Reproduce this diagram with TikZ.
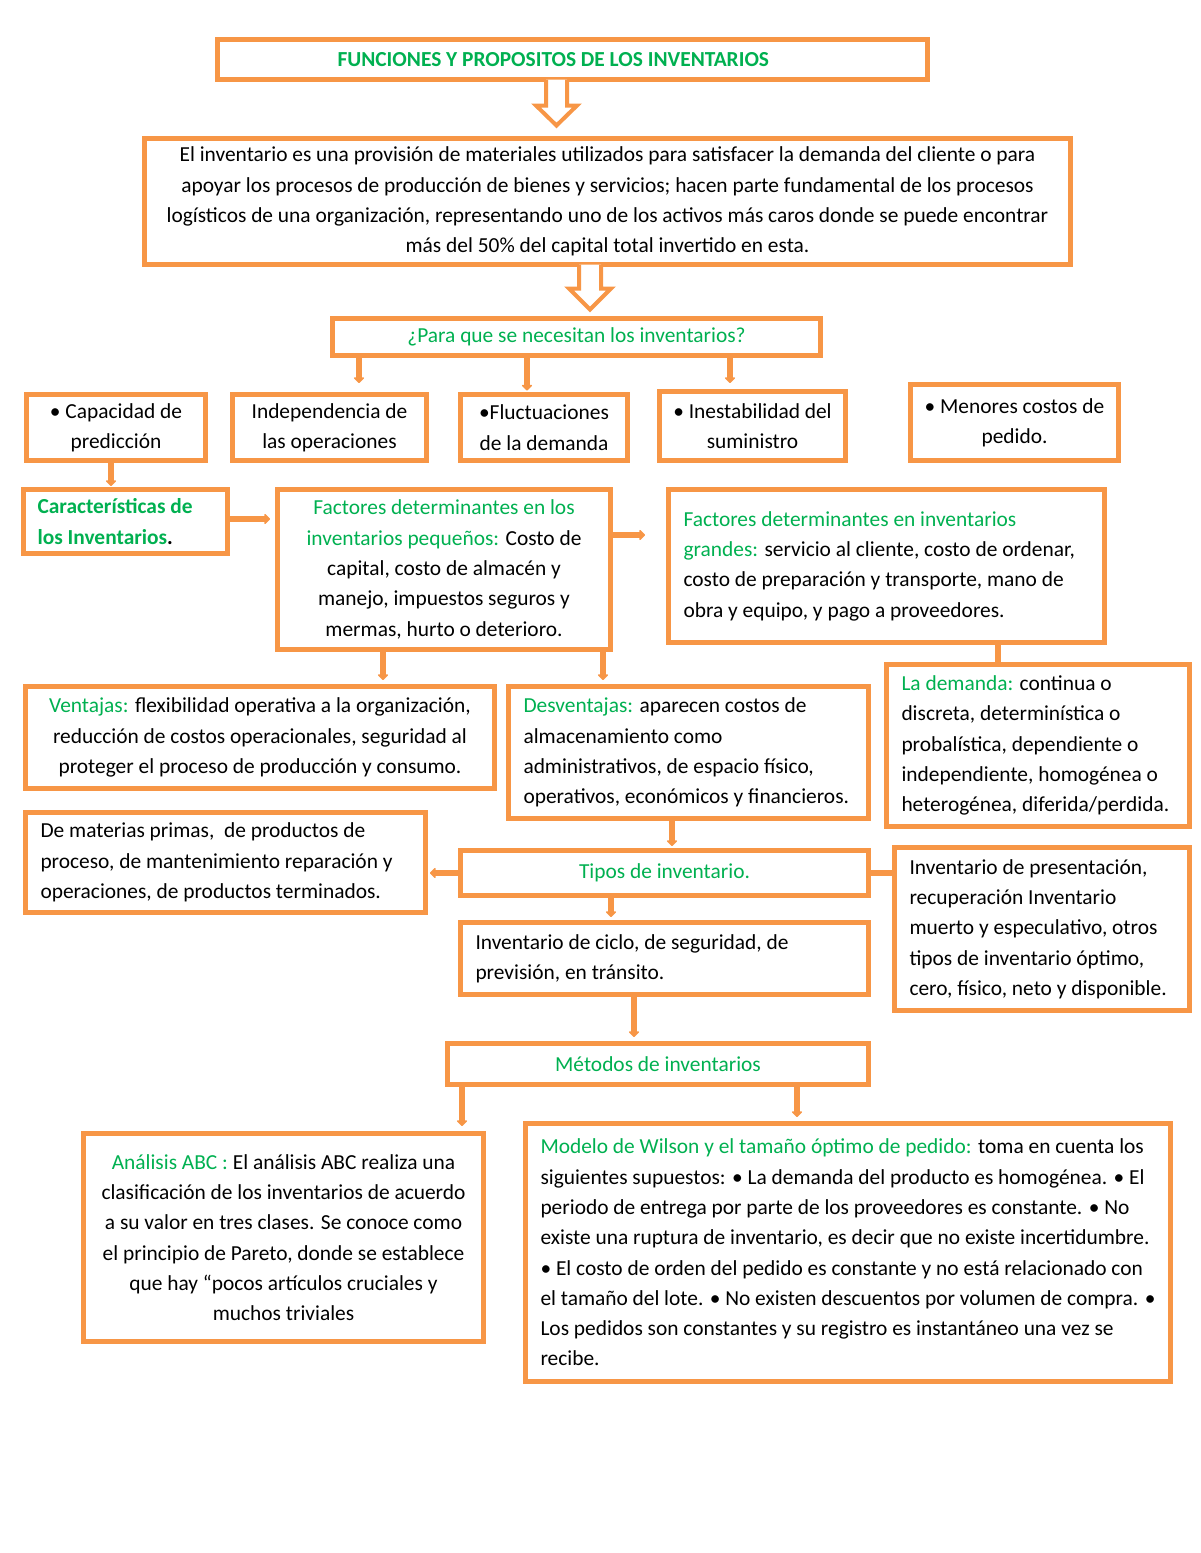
\documentclass[tikz,border=0pt]{standalone}
\usepackage{fontspec}
\setmainfont{Carlito}
\usetikzlibrary{arrows.meta}
\definecolor{naranja}{HTML}{F79646}
\definecolor{verde}{HTML}{00B050}
\newcommand{\enverde}[1]{\textcolor{verde}{#1}}
\begin{document}
\begin{tikzpicture}[x=1pt, y=-1pt,
    box/.style={draw=naranja, line width=5pt, anchor=north west, inner sep=0pt, outer sep=0pt,
      font=\fontsize{21.4}{30.3}\selectfont},
    conn/.style={draw=naranja, line width=6pt, -{Triangle[round,width=12pt,length=6pt]}},
    link/.style={draw=naranja, line width=6pt},
    hollow/.style={draw=naranja, line width=4pt, fill=white, line join=miter}]
    \useasboundingbox (0,0) rectangle (1200,1553);
    % Title and definition
    \node [box, minimum width=710pt, minimum height=40pt, text width=470pt, align=flush left] (title) at (217.5,39.5)
      {\enverde{\bfseries FUNCIONES Y PROPOSITOS DE LOS INVENTARIOS}};
    \node [box, minimum width=926pt, minimum height=126pt, align=center] (intro) at (144.5,138.5)
      {El inventario es una provisión de materiales utilizados para satisfacer la demanda del cliente o para\\
       apoyar los procesos de producción de bienes y servicios; hacen parte fundamental de los procesos\\
       logísticos de una organización, representando uno de los activos más caros donde se puede encontrar\\
       más del 50\% del capital total invertido en esta.};
    \draw [hollow] (title.south -| 546,0) -- ++(0,26) -- ++(-10,0) -- ++(20.5,20) -- ++(20.5,-20) -- ++(-10,0) -- ++(0,-26);
    % Why inventories
    \node [box, minimum width=488pt, minimum height=37pt, align=center] (quest) at (332.5,318.5)
      {\enverde{¿Para que se necesitan los inventarios?}};
    \draw [hollow] (intro.south -| 579,0) -- ++(0,24) -- ++(-10,0) -- ++(21,21) -- ++(21,-21) -- ++(-10,0) -- ++(0,-24);
    \node [box, minimum width=179pt, minimum height=66pt, align=center] (cap) at (26.5,394.5)
      {• Capacidad de\\ predicción};
    \node [box, minimum width=194pt, minimum height=66pt, align=center] (indep) at (232.5,394.5)
      {Independencia de\\ las operaciones};
    \node [box, minimum width=167pt, minimum height=66pt, align=center] (fluct) at (460.5,394.5)
      {•Fluctuaciones\\ de la demanda};
    \node [box, minimum width=186pt, minimum height=69pt, align=center] (inest) at (659.5,391.5)
      {• Inestabilidad del\\ suministro};
    \node [box, minimum width=208pt, minimum height=76pt, align=center] (menor) at (910.5,384.5)
      {• Menores costos de\\ pedido.};
    \draw [conn, shorten >=11.5pt] (quest.south -| 359,0) -- (indep.north -| 359,0);
    \draw [conn, shorten >=4pt] (quest.south -| 527,0) -- (fluct.north -| 527,0);
    \draw [conn, shorten >=8.5pt] (quest.south -| 730,0) -- (inest.north -| 730,0);
    % Characteristics and factors
    \node [box, minimum width=204pt, minimum height=64pt, text width=176pt, align=flush left] (carac) at (23.5,489.5)
      {\enverde{\bfseries Características de}\\ \enverde{\bfseries los Inventarios}\textbf{.}};
    \node [box, minimum width=333pt, minimum height=160pt, align=center] (peq) at (277.5,489.5)
      {\enverde{Factores determinantes en los}\\
       \enverde{inventarios pequeños:} Costo de\\
       capital, costo de almacén y\\
       manejo, impuestos seguros y\\
       mermas, hurto o deterioro.};
    \node [box, minimum width=436pt, minimum height=153pt, text width=406pt, align=flush left] (grand) at (668.5,489.5)
      {\enverde{Factores determinantes en inventarios}\\
       \enverde{grandes:} servicio al cliente, costo de ordenar,\\
       costo de preparación y transporte, mano de\\
       obra y equipo, y pago a proveedores.};
    \draw [conn, shorten >=3.5pt] (cap.south -| 111,0) -- (carac.north -| 111,0);
    \draw [conn, shorten >=7.5pt] (carac.east |- 0,519) -- (peq.west |- 0,519);
    \draw [conn, shorten >=23.5pt] (peq.east |- 0,535) -- (grand.west |- 0,535);
    % Advantages, disadvantages, demand
    \node [box, minimum width=469pt, minimum height=102pt, align=center] (vent) at (25.5,686.5)
      {\enverde{Ventajas:} flexibilidad operativa a la organización,\\
       reducción de costos operacionales, seguridad al\\
       proteger el proceso de producción y consumo.};
    \node [box, minimum width=360pt, minimum height=132pt, text width=330pt, align=flush left] (desv) at (508.5,686.5)
      {\enverde{Desventajas:} aparecen costos de\\
       almacenamiento como\\
       administrativos, de espacio físico,\\
       operativos, económicos y financieros.};
    \node [box, minimum width=303pt, minimum height=162pt, text width=273pt, align=flush left] (dem) at (886.5,664.5)
      {\enverde{La demanda:} continua o\\
       discreta, determinística o\\
       probalística, dependiente o\\
       independiente, homogénea o\\
       heterogénea, diferida/perdida.};
    \draw [conn, shorten >=6.5pt] (peq.south -| 383,0) -- (vent.north -| 383,0);
    \draw [conn, shorten >=6.5pt] (peq.south -| 603,0) -- (desv.north -| 603,0);
    \draw [link] (grand.south -| 998,0) -- (dem.north -| 998,0);
    % Types of inventory
    \node [box, minimum width=400pt, minimum height=100pt, text width=370pt, align=flush left] (mat) at (25.5,812.5)
      {De materias primas, \ de productos de\\
       proceso, de mantenimiento reparación y\\
       operaciones, de productos terminados.};
    \node [box, minimum width=408pt, minimum height=45pt, align=center] (tipos) at (460.5,850.5)
      {\enverde{Tipos de inventario.}};
    \node [box, minimum width=295pt, minimum height=163pt, text width=265pt, align=flush left] (pres) at (894.5,847.5)
      {Inventario de presentación,\\
       recuperación Inventario\\
       muerto y especulativo, otros\\
       tipos de inventario óptimo,\\
       cero, físico, neto y disponible.};
    \node [box, minimum width=408pt, minimum height=72pt, text width=378pt, align=flush left] (ciclo) at (460.5,922.5)
      {Inventario de ciclo, de seguridad, de\\
       previsión, en tránsito.};
    \draw [conn, shorten >=4.5pt] (desv.south -| 672,0) -- (tipos.north -| 672,0);
    \draw [conn, shorten >=4.5pt] (tipos.west |- 0,873) -- (mat.east |- 0,873);
    \draw [link] (tipos.east |- 0,873) -- (pres.west |- 0,873);
    \draw [conn, shorten >=5.5pt] (tipos.south -| 611,0) -- (ciclo.north -| 611,0);
    % Methods
    \node [box, minimum width=421pt, minimum height=41pt, align=center] (metod) at (447.5,1043.5)
      {\enverde{Métodos de inventarios}};
    \node [box, minimum width=400pt, minimum height=208pt, align=center] (abc) at (83.5,1133.5)
      {\enverde{Análisis ABC :} El análisis ABC realiza una\\
       clasificación de los inventarios de acuerdo\\
       a su valor en tres clases. Se conoce como\\
       el principio de Pareto, donde se establece\\
       que hay “pocos artículos cruciales y\\
       muchos triviales};
    \node [box, minimum width=645pt, minimum height=258pt, text width=615pt, align=flush left] (wil) at (525.5,1123.5)
      {\enverde{Modelo de Wilson y el tamaño óptimo de pedido:} toma en cuenta los\\
       siguientes supuestos: • La demanda del producto es homogénea. • El\\
       periodo de entrega por parte de los proveedores es constante. • No\\
       existe una ruptura de inventario, es decir que no existe incertidumbre.\\
       • El costo de orden del pedido es constante y no está relacionado con\\
       el tamaño del lote. • No existen descuentos por volumen de compra. •\\
       Los pedidos son constantes y su registro es instantáneo una vez se\\
       recibe.};
    \draw [conn, shorten >=6.5pt] (ciclo.south -| 634,0) -- (metod.north -| 634,0);
    \draw [conn, shorten >=7.5pt] (metod.south -| 462,0) -- (abc.north -| 462,0);
    \draw [conn, shorten >=6.5pt] (metod.south -| 797,0) -- (wil.north -| 797,0);
\end{tikzpicture}
\end{document}
